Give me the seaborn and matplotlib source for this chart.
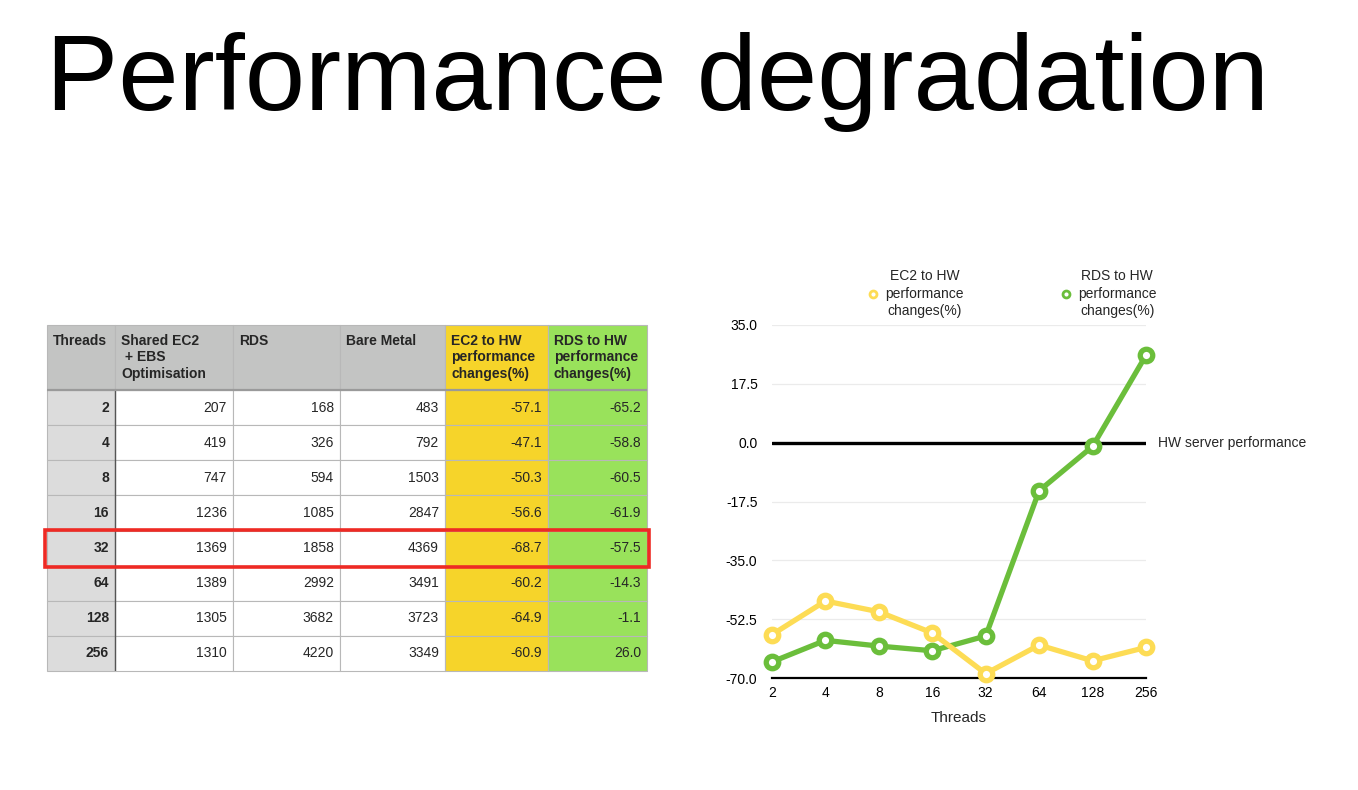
import matplotlib
matplotlib.use("Agg")
import matplotlib.pyplot as plt
import seaborn as sns
import pandas as pd
from matplotlib.lines import Line2D
from matplotlib.patches import Rectangle
import matplotlib.transforms as mtransforms

# ---------------- data ----------------
title = "Performance degradation"
threads = ["2", "4", "8", "16", "32", "64", "128", "256"]
shared_ec2 = [207, 419, 747, 1236, 1369, 1389, 1305, 1310]
rds = [168, 326, 594, 1085, 1858, 2992, 3682, 4220]
bare_metal = [483, 792, 1503, 2847, 4369, 3491, 3723, 3349]
ec2_change = [-57.1, -47.1, -50.3, -56.6, -68.7, -60.2, -64.9, -60.9]
rds_change = [-65.2, -58.8, -60.5, -61.9, -57.5, -14.3, -1.1, 26.0]
col_headers = ["Threads\n\n", "Shared EC2\n + EBS\nOptimisation", "RDS\n\n",
               "Bare Metal\n\n", "EC2 to HW\nperformance\nchanges(%)",
               "RDS to HW\nperformance\nchanges(%)"]
highlight_thread = "32"
y_ticks = [35.0, 17.5, 0.0, -17.5, -35.0, -52.5, -70.0]
legend_labels = ["EC2 to HW\nperformance\nchanges(%)", "RDS to HW\nperformance\nchanges(%)"]
baseline_label = "HW server performance"
x_label = "Threads"

# ---------------- style ----------------
sns.set_style("white")
plt.rcParams["font.family"] = ["Liberation Sans", "DejaVu Sans"]

YELLOW = "#FDDC55"
GREEN = "#6BBE3B"
CELL_YELLOW = "#F6D42A"
CELL_GREEN = "#99E25B"
HEAD_GRAY = "#C3C4C3"
ROW_GRAY = "#DCDCDC"
RED = "#EE2A24"

W, H = 1358, 790
fig = plt.figure(figsize=(W / 100, H / 100), dpi=100)
fig.patch.set_facecolor("white")

# ---------------- title ----------------
fig.text(46 / W, 1 - 110 / H, title, fontsize=78, va="baseline", ha="left",
         color="black")

# ---------------- table ----------------
tab_left, tab_top, tab_right, tab_bottom = 47, 325, 647, 671
ax_t = fig.add_axes([tab_left / W, 1 - tab_bottom / H,
                     (tab_right - tab_left) / W, (tab_bottom - tab_top) / H])
ax_t.axis("off")
col_px = [68, 118, 107, 105, 103, 99]
tot_w = sum(col_px)
head_px = 65
row_px = (tab_bottom - tab_top - head_px) / len(threads)
tot_h = tab_bottom - tab_top

cell_text = [[t, str(a), str(b), str(c), f"{d:.1f}", f"{e:.1f}"]
             for t, a, b, c, d, e in zip(threads, shared_ec2, rds, bare_metal,
                                         ec2_change, rds_change)]
tab = ax_t.table(cellText=cell_text, colLabels=col_headers,
                 colWidths=[c / tot_w for c in col_px],
                 cellLoc="right", colLoc="left", bbox=[0, 0, 1, 1])
tab.auto_set_font_size(False)
tab.set_fontsize(10)
for (r, c), cell in tab.get_celld().items():
    cell.set_edgecolor("#B8B8B8")
    cell.set_linewidth(0.8)
    cell.PAD = 6 / col_px[c]
    cell.set_height((head_px if r == 0 else row_px) / tot_h)
    if c == 4:
        fc = CELL_YELLOW
    elif c == 5:
        fc = CELL_GREEN
    elif r == 0:
        fc = HEAD_GRAY
    elif c == 0:
        fc = ROW_GRAY
    else:
        fc = "white"
    cell.set_facecolor(fc)
    if r == 0 or c == 0:
        cell.get_text().set_fontweight("bold")

# darker separator of the thread column and under the header
ax_t.plot([col_px[0] / tot_w] * 2, [0, (tot_h - head_px) / tot_h],
          color="#555555", lw=1.0, transform=ax_t.transAxes, zorder=5)
ax_t.plot([0, 1], [(tot_h - head_px) / tot_h] * 2, color="#9A9A9A", lw=1.6,
          transform=ax_t.transAxes, zorder=5)

# red highlight box
hi = threads.index(highlight_thread)
rb = (len(threads) - 1 - hi) * row_px / tot_h
ax_t.add_patch(Rectangle((-2 / tot_w, rb - 1 / tot_h), 1 + 4 / tot_w,
                         (row_px + 2) / tot_h, fill=False, edgecolor=RED,
                         lw=2.6, transform=ax_t.transAxes, clip_on=False,
                         zorder=10))

# ---------------- line chart ----------------
ax = fig.add_axes([772 / W, 1 - 678 / H, 374 / W, 353 / H])
df = pd.DataFrame({"Threads": threads, "EC2": ec2_change, "RDS": rds_change})

ax.axhline(0, color="black", lw=2.4, zorder=3)
line_kws = dict(marker="o", markersize=9, markeredgewidth=3.8,
                markerfacecolor="white", linewidth=3.8, clip_on=False)
sns.lineplot(data=df, x="Threads", y="RDS", sort=False, color=GREEN,
             markeredgecolor=GREEN, ax=ax, zorder=4, **line_kws)
sns.lineplot(data=df, x="Threads", y="EC2", sort=False, color=YELLOW,
             markeredgecolor=YELLOW, ax=ax, zorder=5, **line_kws)

ax.set_xlim(0, len(threads) - 1)
ax.set_ylim(min(y_ticks), max(y_ticks))
ax.set_yticks(y_ticks)
ax.set_yticklabels([f"{v:.1f}" for v in y_ticks])
ax.yaxis.grid(True, color="#EBEBEB", lw=0.9)
ax.xaxis.grid(False)
for s in ["top", "right", "left"]:
    ax.spines[s].set_visible(False)
ax.spines["bottom"].set_color("black")
ax.spines["bottom"].set_linewidth(1.6)
ax.tick_params(axis="x", length=0, pad=6, labelsize=10, colors="black")
ax.tick_params(axis="y", length=0, pad=10.5, labelsize=10, colors="black")
ax.set_xlabel(x_label, fontsize=11, labelpad=8)
ax.set_ylabel("")

trans = mtransforms.blended_transform_factory(ax.transAxes, ax.transData)
ax.text(1.032, 0, baseline_label, transform=trans, va="center", ha="left",
        fontsize=10)

handles = [Line2D([], [], marker="o", ls="none", markerfacecolor="white",
                  markeredgecolor=c, markersize=5, markeredgewidth=2)
           for c in (YELLOW, GREEN)]
leg = ax.legend(handles, legend_labels, ncol=2, loc="lower center",
                bbox_to_anchor=(0.64, 1.0), frameon=False, fontsize=10,
                handlelength=1.0, handletextpad=0.4, columnspacing=6.8,
                borderaxespad=0.1)
for t in leg.get_texts():
    t.set_multialignment("center")
    t.set_linespacing(1.3)

fig.savefig("out.png", dpi=100, facecolor="white")
